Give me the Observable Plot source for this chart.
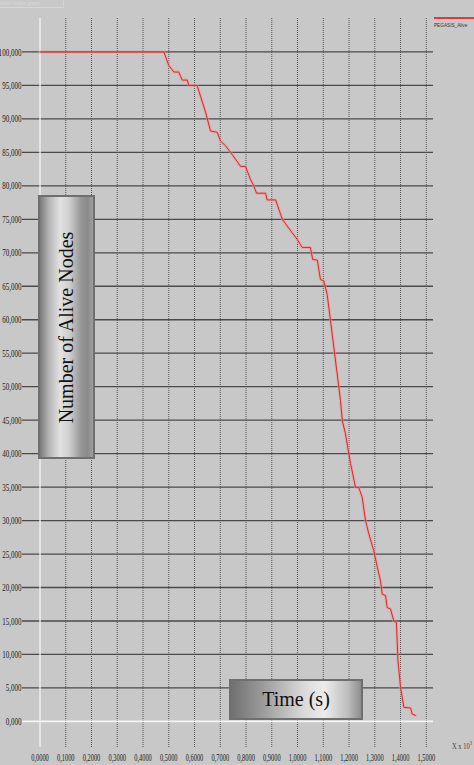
<!DOCTYPE html>
<html>
<head>
<meta charset="utf-8">
<script src="https://cdn.jsdelivr.net/npm/d3@7"></script>
<script src="https://cdn.jsdelivr.net/npm/@observablehq/plot@0.6"></script>
<style>
  html, body { margin: 0; padding: 0; background: #c8c8c8; }
  #wrap { position: relative; width: 474px; height: 765px; overflow: hidden; }
  .box { position: absolute; box-sizing: border-box; border: 2px solid #6f6f6f; font-family: "Liberation Serif", serif; color: #111; display: flex; align-items: center; justify-content: center; }
  #ylab { left: 38px; top: 195px; width: 57px; height: 264px;
    background: linear-gradient(to right, #7a7a7a 0%, #b8b8b8 18%, #e2e2e2 38%, #cfcfcf 55%, #959595 78%, #8a8a8a 90%, #9e9e9e 100%); }
  #ylab span { transform: rotate(-90deg); white-space: nowrap; font-size: 20px; }
  #xlab { left: 229px; top: 679px; width: 134px; height: 41px; font-size: 20px;
    background: linear-gradient(to right, #707070 0%, #9c9c9c 25%, #d8d8d8 55%, #ececec 72%, #bdbdbd 90%, #8e8e8e 100%); }
  #legend { position: absolute; left: 434px; top: 17px; width: 40px; font-family: "Liberation Sans", sans-serif; font-size: 6px; color: #333; white-space: nowrap; }
  #legend .ln { height: 2px; background: #e03a3a; margin-bottom: 3px; }
  #legend .tx { display: inline-block; transform: scaleX(0.78); transform-origin: left center; }
  #mult { position: absolute; left: 452px; top: 740px; font-family: "Liberation Serif", serif; font-size: 9px; color: #444; white-space: nowrap; transform: scaleX(0.72); transform-origin: left center; }
  #mult sup { font-size: 6px; }
  #topbar { position: absolute; left: 0; top: 0; width: 63px; height: 7px; border-bottom: 1px solid #d6d6d6; border-right: 1px solid #d6d6d6; font-family: "Liberation Sans", sans-serif; font-size: 5px; line-height: 6px; color: #d8d8d8; white-space: nowrap; overflow: hidden; }
</style>
</head>
<body>
<div id="wrap">
  <div id="chart"></div>
  <div id="topbar">Alive nodes graph</div>
  <div id="legend"><div class="ln"></div><span class="tx">PEGASIS_Alive</span></div>
  <div class="box" id="ylab"><span>Number of Alive Nodes</span></div>
  <div class="box" id="xlab">Time (s)</div>
  <div id="mult">X x 10<sup>3</sup></div>
</div>
<script>
// Time (x 10^3 s)
const time = [0, 0.481, 0.500, 0.520, 0.539, 0.552, 0.572, 0.578, 0.610, 0.643, 0.662, 0.688, 0.701, 0.720, 0.740, 0.759, 0.779, 0.798, 0.817, 0.830, 0.841, 0.876, 0.882, 0.915, 0.941, 0.960, 0.979, 0.999, 1.018, 1.050, 1.059, 1.077, 1.089, 1.102, 1.115, 1.128, 1.141, 1.154, 1.167, 1.174, 1.186, 1.199, 1.206, 1.225, 1.238, 1.251, 1.264, 1.277, 1.296, 1.310, 1.322, 1.329, 1.342, 1.348, 1.361, 1.374, 1.384, 1.390, 1.400, 1.413, 1.439, 1.445, 1.458];
// Number of alive nodes
const alive = [100000, 100000, 98000, 97000, 97000, 95800, 95800, 95000, 95000, 91000, 88200, 88000, 86700, 86000, 85000, 84000, 82900, 82900, 81000, 80000, 78900, 78900, 77900, 77900, 75000, 74000, 73000, 72000, 70800, 70800, 69000, 68900, 66000, 65800, 63800, 59900, 55900, 51900, 47900, 44900, 43000, 40000, 38500, 35000, 34900, 33500, 30000, 28000, 25500, 23000, 21000, 19000, 18800, 17000, 16800, 15000, 14800, 9100, 5100, 2100, 2000, 1100, 900];

const xTicks = [0, 0.1, 0.2, 0.3, 0.4, 0.5, 0.6, 0.7, 0.8, 0.9, 1.0, 1.1, 1.2, 1.3, 1.4, 1.5];
const yTicks = [0, 5000, 10000, 15000, 20000, 25000, 30000, 35000, 40000, 45000, 50000, 55000, 60000, 65000, 70000, 75000, 80000, 85000, 90000, 95000, 100000];

const data = time.map((t, i) => ({t, n: alive[i]}));

const xFmt = d => d3.format(".4f")(d).replace(".", ",");
const yFmt = d => d === 0 ? "0,000" : d3.format(",")(d);

const chart = Plot.plot({
  width: 474,
  height: 765,
  marginLeft: 22,
  marginRight: 41,
  marginTop: 18,
  marginBottom: 18,
  style: { background: "#c8c8c8", fontFamily: "Liberation Serif", fontSize: "11px", color: "#222" },
  x: { domain: [-0.068, 1.528], ticks: xTicks, tickFormat: xFmt, tickSize: 0, tickPadding: 6, label: null },
  y: { domain: [-3900, 105000], ticks: yTicks, tickFormat: yFmt, tickSize: 0, tickPadding: 1, label: null },
  marks: [
    Plot.ruleX(xTicks.filter(d => d !== 0), { stroke: "#555", strokeWidth: 1, strokeDasharray: "1,1" }),
    Plot.ruleY(yTicks.filter(d => d !== 0), { stroke: "#4a4a4a", strokeWidth: 1.3 }),
    Plot.ruleX([0], { stroke: "#f4f4f4", strokeWidth: 1.3 }),
    Plot.ruleY([0], { stroke: "#f4f4f4", strokeWidth: 1.6 }),
    Plot.line(data, { x: "t", y: "n", stroke: "#f09090", strokeWidth: 3, strokeOpacity: 0.55 }),
    Plot.line(data, { x: "t", y: "n", stroke: "#dc2a2a", strokeWidth: 1 })
  ]
});
document.getElementById("chart").appendChild(chart);

// narrow the tick labels horizontally like the original condensed font
chart.querySelectorAll('g[aria-label="x-axis tick label"] text').forEach(t => t.style.fontSize = "10px");
chart.querySelectorAll("text").forEach(t => {
  const w = t.getComputedTextLength();
  if (w > 0) {
    t.setAttribute("textLength", (w * 0.64).toFixed(2));
    t.setAttribute("lengthAdjust", "spacingAndGlyphs");
  }
});
</script>
</body>
</html>
